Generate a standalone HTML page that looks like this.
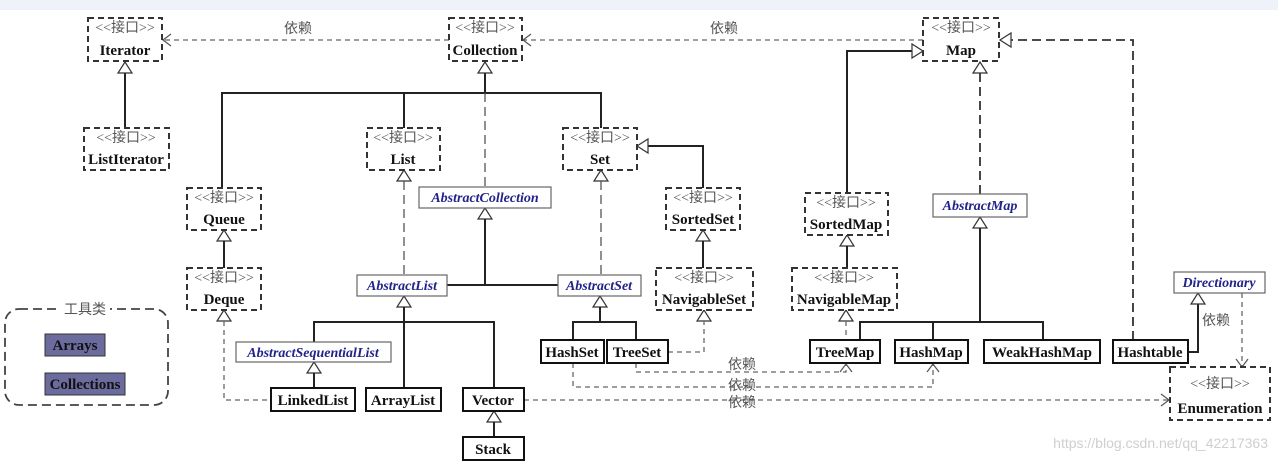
<!DOCTYPE html>
<html><head><meta charset="utf-8"><style>
html,body{margin:0;padding:0;background:#fff;}
svg{display:block;}
.n{font-family:"Liberation Serif","Noto Serif CJK SC",serif;font-weight:bold;font-size:15px;fill:#111;}
.s{font-family:"Liberation Serif","Noto Sans CJK SC",sans-serif;font-size:14px;fill:#555;}
.a{font-family:"Liberation Serif",serif;font-weight:bold;font-style:italic;font-size:14px;fill:#22228a;}
.l{font-family:"Liberation Sans","Noto Sans CJK SC",sans-serif;font-size:14px;fill:#555;}
.ib{fill:#fff;stroke:#333;stroke-width:2;stroke-dasharray:6,4;}
.cb{fill:#fff;stroke:#111;stroke-width:2;}
.ab{fill:#fff;stroke:#666;stroke-width:1.2;}
.sl{fill:none;stroke:#222;stroke-width:2;}
.dl{fill:none;stroke:#666;stroke-width:1.3;stroke-dasharray:5,4;}
.dd{fill:none;stroke:#333;stroke-width:1.8;stroke-dasharray:9,5;}
.t{fill:#fff;stroke:#333;stroke-width:1.2;}
.ar{fill:none;stroke:#555;stroke-width:1.2;}
</style></head><body>
<svg width="1278" height="461" viewBox="0 0 1278 461" xmlns="http://www.w3.org/2000/svg">
<rect x="0" y="0" width="1278" height="10" fill="#eef3fa"/>

<path class="dl" d="M449,40 H163"/><path class="ar" d="M171,34 L163,40 L171,46"/>
<text class="l" x="284" y="33">依赖</text>
<path class="dl" d="M923,40 H523"/><path class="ar" d="M531,34 L523,40 L531,46"/>
<text class="l" x="710" y="33">依赖</text>
<path class="sl" d="M125,128 V73"/><polygon class="t" points="125,62 118,73 132,73"/>
<path class="sl" d="M485,73 V93 M222,188 V93 H601 V128 M404,93 V128"/>
<polygon class="t" points="485,62 478,73 492,73"/>
<path class="dd" d="M485,93 V187" style="stroke-width:1.3;stroke:#555"/>
<polygon class="t" points="404,170 397,181 411,181"/>
<path class="dd" d="M404,181 V275" style="stroke-width:1.3;stroke:#555"/>
<polygon class="t" points="601,170 594,181 608,181"/>
<path class="dd" d="M601,181 V275" style="stroke-width:1.3;stroke:#555"/>
<polygon class="t" points="485,208 478,219 492,219"/>
<path class="sl" d="M485,219 V285 M447,285 H558"/>
<path class="sl" d="M703,188 V146 H648"/><polygon class="t" points="637,146 648,139 648,153"/>
<polygon class="t" points="703,230 696,241 710,241"/><path class="sl" d="M703,241 V268"/>
<polygon class="t" points="224,230 217,241 231,241"/><path class="sl" d="M224,241 V268"/>
<polygon class="t" points="224,310 217,321 231,321"/><path class="dl" d="M224,321 V400 H271"/>
<polygon class="t" points="404,296 397,307 411,307"/>
<path class="sl" d="M404,307 V388 M314,342 V322 H494 V388"/>
<polygon class="t" points="314,362 307,373 321,373"/><path class="sl" d="M314,373 V388"/>
<polygon class="t" points="494,411 487,422 501,422"/><path class="sl" d="M494,422 V437"/>
<path class="dl" d="M524,400 H1169"/><path class="ar" d="M1161,394 L1169,400 L1161,406"/>
<text class="l" x="728" y="407">依赖</text>
<polygon class="t" points="600,296 593,307 607,307"/>
<path class="sl" d="M600,307 V322 M573,340 V322 H636 V340"/>
<polygon class="t" points="704,310 697,321 711,321"/><path class="dl" d="M668,352 H704 V321"/>
<path class="dl" d="M573,363 V387 H933 V364"/><path class="ar" d="M927,372 L933,364 L939,372"/>
<text class="l" x="728" y="390">依赖</text>
<path class="dl" d="M636,363 V372 H846 V364"/><path class="ar" d="M840,372 L846,364 L852,372"/>
<text class="l" x="728" y="369">依赖</text>
<path class="sl" d="M847,193 V51 H912"/><polygon class="t" points="923,51 912,44 912,58"/>
<polygon class="t" points="847,235 840,246 854,246"/><path class="sl" d="M847,246 V268"/>
<polygon class="t" points="846,310 839,321 853,321"/><path class="dl" d="M846,321 V340"/>
<polygon class="t" points="980,62 973,73 987,73"/><path class="dd" d="M980,73 V194"/>
<polygon class="t" points="980,217 973,228 987,228"/>
<path class="sl" d="M980,228 V322 M860,340 V322 H1043 V340 M933,322 V340"/>
<path class="dd" d="M1133,340 V40 H1011"/><polygon class="t" points="1000,40 1011,33 1011,47"/>
<path class="sl" d="M1188,352 H1198 V304"/><polygon class="t" points="1198,293 1191,304 1205,304"/>
<text class="l" x="1202" y="325">依赖</text>
<path class="dl" d="M1242,293 V367"/><path class="ar" d="M1236,359 L1242,367 L1248,359"/>

<rect class="ib" x="88" y="18" width="74" height="43"/><text class="s" x="125" y="32" text-anchor="middle">&lt;&lt;接口&gt;&gt;</text><text class="n" x="125" y="55" text-anchor="middle">Iterator</text>
<rect class="ib" x="449" y="18" width="73" height="43"/><text class="s" x="485" y="32" text-anchor="middle">&lt;&lt;接口&gt;&gt;</text><text class="n" x="485" y="55" text-anchor="middle">Collection</text>
<rect class="ib" x="923" y="18" width="76" height="43"/><text class="s" x="961" y="32" text-anchor="middle">&lt;&lt;接口&gt;&gt;</text><text class="n" x="961" y="55" text-anchor="middle">Map</text>
<rect class="ib" x="84" y="128" width="85" height="42"/><text class="s" x="126" y="142" text-anchor="middle">&lt;&lt;接口&gt;&gt;</text><text class="n" x="126" y="164" text-anchor="middle">ListIterator</text>
<rect class="ib" x="367" y="128" width="73" height="42"/><text class="s" x="403" y="142" text-anchor="middle">&lt;&lt;接口&gt;&gt;</text><text class="n" x="403" y="164" text-anchor="middle">List</text>
<rect class="ib" x="563" y="128" width="74" height="42"/><text class="s" x="600" y="142" text-anchor="middle">&lt;&lt;接口&gt;&gt;</text><text class="n" x="600" y="164" text-anchor="middle">Set</text>
<rect class="ib" x="187" y="188" width="74" height="42"/><text class="s" x="224" y="202" text-anchor="middle">&lt;&lt;接口&gt;&gt;</text><text class="n" x="224" y="224" text-anchor="middle">Queue</text>
<rect class="ib" x="666" y="188" width="74" height="42"/><text class="s" x="703" y="202" text-anchor="middle">&lt;&lt;接口&gt;&gt;</text><text class="n" x="703" y="224" text-anchor="middle">SortedSet</text>
<rect class="ib" x="805" y="193" width="83" height="42"/><text class="s" x="846" y="207" text-anchor="middle">&lt;&lt;接口&gt;&gt;</text><text class="n" x="846" y="229" text-anchor="middle">SortedMap</text>
<rect class="ib" x="187" y="268" width="74" height="42"/><text class="s" x="224" y="282" text-anchor="middle">&lt;&lt;接口&gt;&gt;</text><text class="n" x="224" y="304" text-anchor="middle">Deque</text>
<rect class="ib" x="656" y="268" width="97" height="42"/><text class="s" x="704" y="282" text-anchor="middle">&lt;&lt;接口&gt;&gt;</text><text class="n" x="704" y="304" text-anchor="middle">NavigableSet</text>
<rect class="ib" x="792" y="268" width="105" height="42"/><text class="s" x="844" y="282" text-anchor="middle">&lt;&lt;接口&gt;&gt;</text><text class="n" x="844" y="304" text-anchor="middle">NavigableMap</text>
<rect class="ib" x="1170" y="367" width="100" height="53"/><text class="s" x="1220" y="388" text-anchor="middle">&lt;&lt;接口&gt;&gt;</text><text class="n" x="1220" y="413" text-anchor="middle">Enumeration</text>

<rect class="ab" x="419" y="187" width="132" height="21"/><text class="a" x="485" y="202" text-anchor="middle">AbstractCollection</text>
<rect class="ab" x="933" y="194" width="94" height="23"/><text class="a" x="980" y="210" text-anchor="middle">AbstractMap</text>
<rect class="ab" x="357" y="275" width="90" height="21"/><text class="a" x="402" y="290" text-anchor="middle">AbstractList</text>
<rect class="ab" x="558" y="275" width="83" height="21"/><text class="a" x="599" y="290" text-anchor="middle">AbstractSet</text>
<rect class="ab" x="1174" y="272" width="91" height="21"/><text class="a" x="1219" y="287" text-anchor="middle">Directionary</text>
<rect class="ab" x="236" y="342" width="155" height="20"/><text class="a" x="313" y="357" text-anchor="middle">AbstractSequentialList</text>

<rect class="cb" x="541" y="340" width="63" height="23"/><text class="n" x="572" y="357" text-anchor="middle">HashSet</text>
<rect class="cb" x="607" y="340" width="61" height="23"/><text class="n" x="637" y="357" text-anchor="middle">TreeSet</text>
<rect class="cb" x="810" y="340" width="70" height="23"/><text class="n" x="845" y="357" text-anchor="middle">TreeMap</text>
<rect class="cb" x="895" y="340" width="73" height="23"/><text class="n" x="931" y="357" text-anchor="middle">HashMap</text>
<rect class="cb" x="984" y="340" width="116" height="23"/><text class="n" x="1042" y="357" text-anchor="middle">WeakHashMap</text>
<rect class="cb" x="1113" y="340" width="75" height="23"/><text class="n" x="1150" y="357" text-anchor="middle">Hashtable</text>
<rect class="cb" x="271" y="388" width="84" height="23"/><text class="n" x="313" y="405" text-anchor="middle">LinkedList</text>
<rect class="cb" x="366" y="388" width="75" height="23"/><text class="n" x="403" y="405" text-anchor="middle">ArrayList</text>
<rect class="cb" x="463" y="388" width="61" height="23"/><text class="n" x="493" y="405" text-anchor="middle">Vector</text>
<rect class="cb" x="463" y="437" width="61" height="23"/><text class="n" x="493" y="454" text-anchor="middle">Stack</text>

<rect x="5" y="309" width="163" height="96" rx="14" fill="none" stroke="#444" stroke-width="1.8" stroke-dasharray="9,5"/>
<rect x="60" y="300" width="50" height="16" fill="#fff"/>
<text class="l" x="85" y="314" text-anchor="middle">工具类</text>
<rect x="45" y="334" width="60" height="22" fill="#6b6b9e" stroke="#333" stroke-width="1"/><text class="n" x="75" y="350" text-anchor="middle">Arrays</text>
<rect x="45" y="373" width="80" height="22" fill="#6b6b9e" stroke="#333" stroke-width="1"/><text class="n" x="85" y="389" text-anchor="middle">Collections</text>

<text x="1268" y="448" text-anchor="end" font-family="Liberation Sans, sans-serif" font-size="14" fill="#cfcfcf">https://blog.csdn.net/qq_42217363</text>
</svg>
</body></html>
